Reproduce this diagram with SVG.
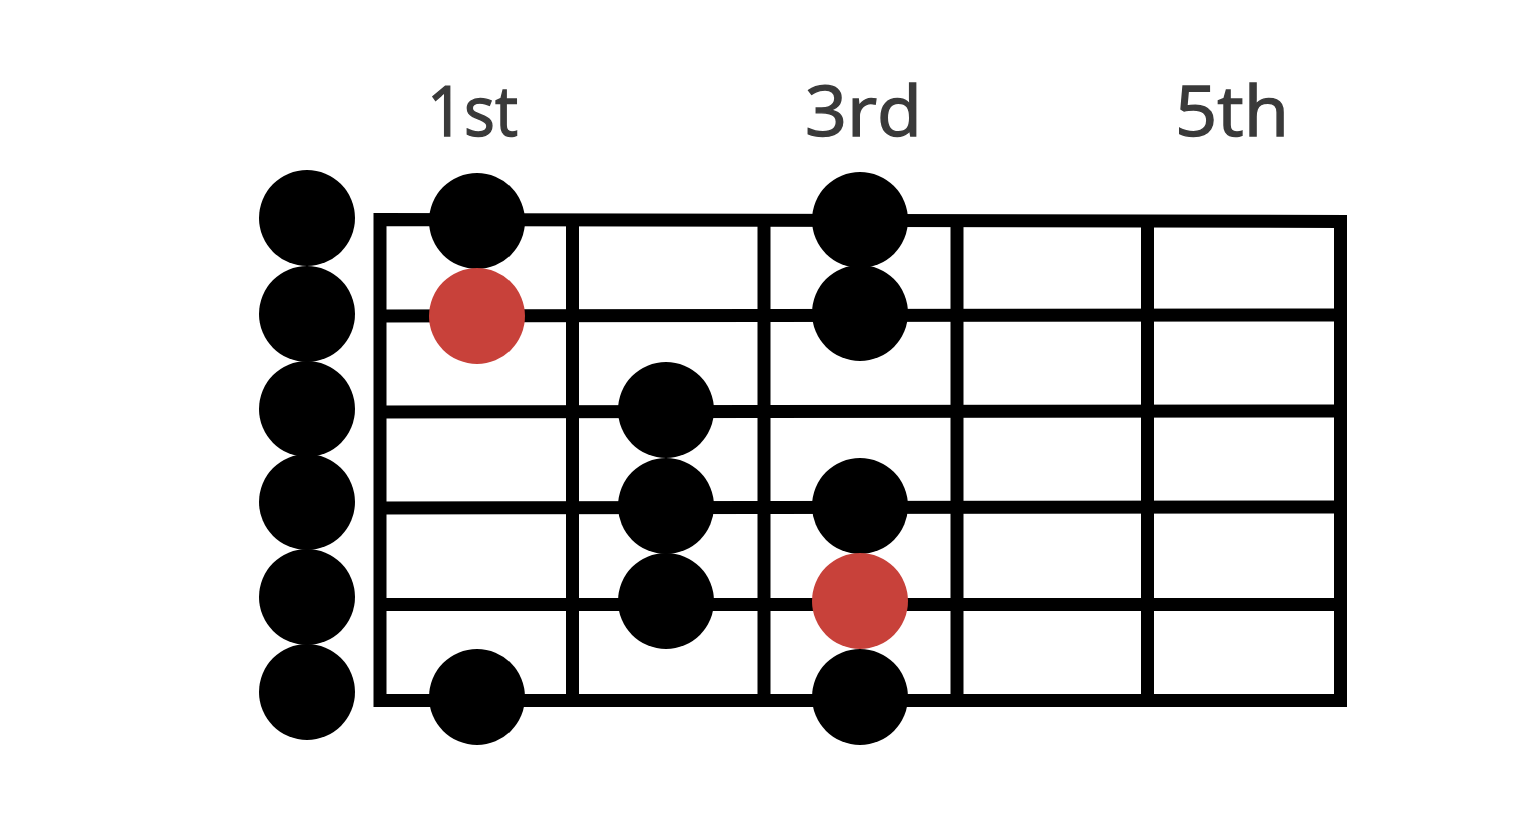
<svg xmlns="http://www.w3.org/2000/svg" width="1536" height="821" viewBox="0 0 1536 821">
<style>
.grid{fill:none;stroke:#000;stroke-width:13;stroke-linejoin:miter;stroke-linecap:butt}
.dot{fill:#000}
.root{fill:#c8413a}
.lbl{font-family:"Open Sans","Noto Sans",sans-serif;font-size:69px;fill:#3a3a3a;stroke:#3a3a3a;stroke-width:1.4}
</style>
<rect width="1536" height="821" fill="#fff"/>
<g id="labels">
<text class="lbl" x="427" y="136" textLength="91" lengthAdjust="spacingAndGlyphs">1st</text>
<text class="lbl" x="805" y="136" textLength="117" lengthAdjust="spacingAndGlyphs">3rd</text>
<text class="lbl" x="1175" y="136" textLength="114" lengthAdjust="spacingAndGlyphs">5th</text>
</g>
<g id="connectors">
<path class="grid" d="M380,219.5 L1340.5,221.5 L1340.5,700.5 L380,700.5 Z"/>
<line class="grid" x1="380" y1="316" x2="1340" y2="315"/>
<line class="grid" x1="380" y1="412" x2="1340" y2="411"/>
<line class="grid" x1="380" y1="508" x2="1340" y2="507"/>
<line class="grid" x1="380" y1="604.5" x2="1340" y2="604.5"/>
<line class="grid" x1="572.5" y1="220" x2="572.5" y2="700"/>
<line class="grid" x1="764" y1="220" x2="764" y2="700"/>
<line class="grid" x1="957" y1="221" x2="957" y2="700"/>
<line class="grid" x1="1147.5" y1="221" x2="1147.5" y2="700"/>
</g>
<g id="open-strings">
<circle id="open1" class="dot" cx="307" cy="218" r="48"/>
<circle id="open2" class="dot" cx="307" cy="314" r="48"/>
<circle id="open3" class="dot" cx="307" cy="409" r="48"/>
<circle id="open4" class="dot" cx="307" cy="502" r="48"/>
<circle id="open5" class="dot" cx="307" cy="597" r="48"/>
<circle id="open6" class="dot" cx="307" cy="692" r="48"/>
</g>
<g id="fret1">
<circle id="f1s1" class="dot" cx="477" cy="221" r="48"/>
<circle id="f1s2" class="root" cx="477" cy="316" r="48"/>
<circle id="f1s6" class="dot" cx="477" cy="697" r="48"/>
</g>
<g id="fret2">
<circle id="f2s3" class="dot" cx="666" cy="410" r="48"/>
<circle id="f2s4" class="dot" cx="666" cy="506" r="48"/>
<circle id="f2s5" class="dot" cx="666" cy="601" r="48"/>
</g>
<g id="fret3">
<circle id="f3s1" class="dot" cx="860" cy="220" r="48"/>
<circle id="f3s2" class="dot" cx="860" cy="313" r="48"/>
<circle id="f3s4" class="dot" cx="860" cy="506" r="48"/>
<circle id="f3s5" class="root" cx="860" cy="601" r="48"/>
<circle id="f3s6" class="dot" cx="860" cy="697" r="48"/>
</g>
</svg>
